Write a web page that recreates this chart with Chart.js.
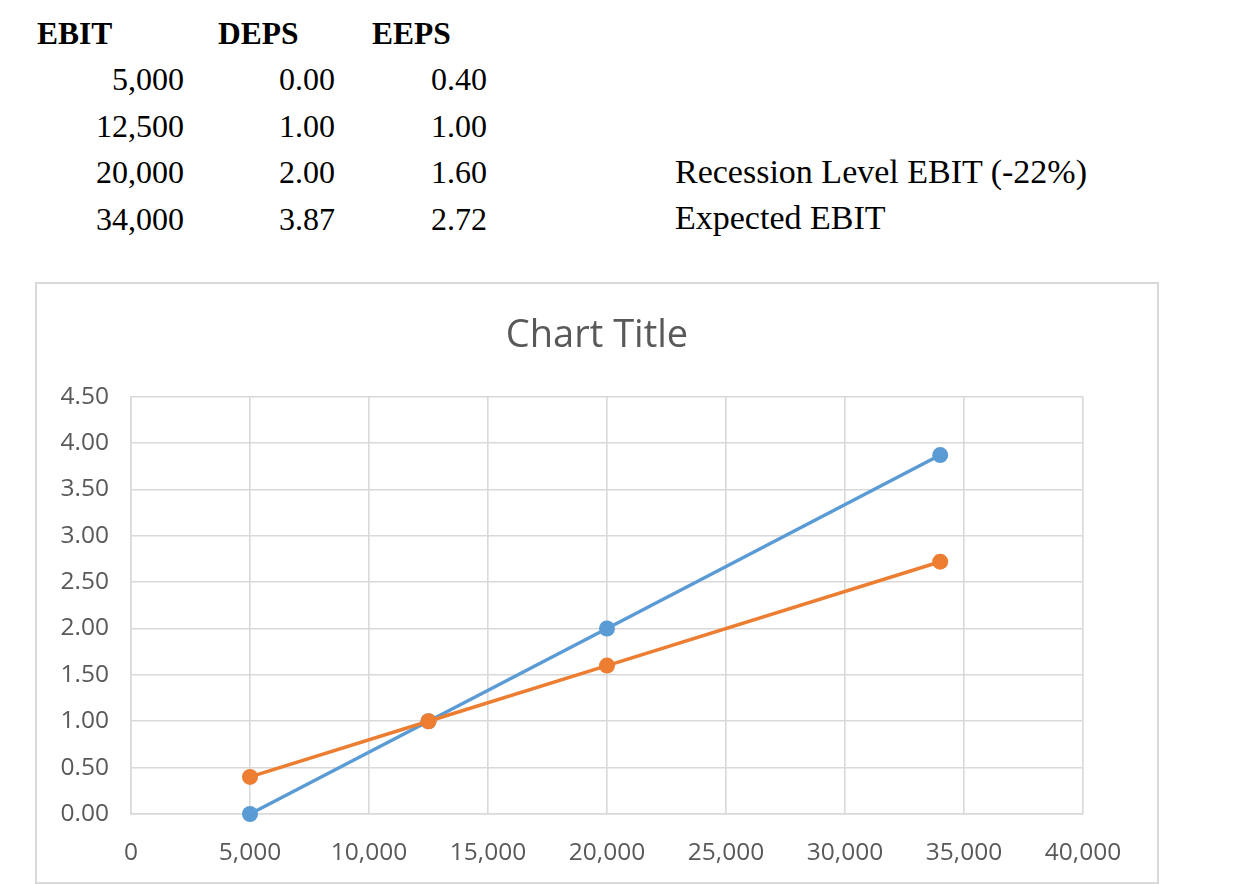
<!DOCTYPE html>
<html>
<head>
<meta charset="utf-8">
<script src="https://cdn.jsdelivr.net/npm/chart.js@4.4.1/dist/chart.umd.min.js"></script>
<style>
  html, body { margin: 0; padding: 0; background: #fff; }
  body { width: 1238px; height: 884px; position: relative; overflow: hidden; font-family: "Liberation Serif", "Times New Roman", serif; color: #000; }
  .t { position: absolute; white-space: nowrap; }
  .h { font-weight: bold; }
  .r { text-align: right; }
  #frame { position: absolute; left: 35px; top: 282px; width: 1120px; height: 598px; border: 2px solid #d9d9d9; }
  #frame canvas { display: block; }
</style>
</head>
<body>
<div id="table"></div>
<div id="frame"><canvas id="c" width="1120" height="598"></canvas></div>
<script>
// ---- data ----
const headers = ["EBIT", "DEPS", "EEPS"];
const ebit = [5000, 12500, 20000, 34000];
const deps = [0.00, 1.00, 2.00, 3.87];
const eeps = [0.40, 1.00, 1.60, 2.72];
const notes = ["", "", "Recession Level EBIT (-22%)", "Expected EBIT"];
const xTicks = [0, 5000, 10000, 15000, 20000, 25000, 30000, 35000, 40000];
const yTicks = [0, 0.5, 1, 1.5, 2, 2.5, 3, 3.5, 4, 4.5];
const chartTitle = "Chart Title";

// ---- table text ----
const tbl = document.getElementById('table');
function addText(txt, cls, fs, baseline, pos) {
  const d = document.createElement('div');
  d.className = 't ' + cls;
  d.textContent = txt;
  d.style.fontSize = fs + 'px';
  d.style.lineHeight = fs + 'px';
  d.style.top = (baseline - 0.8375 * fs) + 'px';
  Object.assign(d.style, pos);
  tbl.appendChild(d);
}
const headerLeft = [37, 218, 372];
headers.forEach((h, i) => addText(h, 'h', 31.5, 44, { left: headerLeft[i] + 'px' }));
const rowBase = [90, 136.5, 183, 229.5];
const colRight = [184, 335, 487];
const right = (r) => ({ left: (r - 200) + 'px', width: '200px' });
ebit.forEach((v, i) => {
  addText(v.toLocaleString('en-US'), 'r', 32, rowBase[i], right(colRight[0]));
  addText(deps[i].toFixed(2), 'r', 32, rowBase[i], right(colRight[1]));
  addText(eeps[i].toFixed(2), 'r', 32, rowBase[i], right(colRight[2]));
  if (notes[i]) addText(notes[i], '', 34, rowBase[i], { left: '675px' });
});

// ---- chart ----
const gridColor = '#d9d9d9';
const tickColor = '#595959';
const tickFont = { family: 'Open Sans', size: 24.5 };
new Chart(document.getElementById('c'), {
  type: 'line',
  data: {
    datasets: [
      {
        label: 'DEPS',
        data: ebit.map((x, i) => ({ x: x, y: deps[i] })),
        borderColor: '#5b9bd5', backgroundColor: '#5b9bd5',
        borderWidth: 3.5, pointRadius: 8, pointHoverRadius: 8,
        pointBorderWidth: 0, order: 1, clip: false, tension: 0
      },
      {
        label: 'EEPS',
        data: ebit.map((x, i) => ({ x: x, y: eeps[i] })),
        borderColor: '#ed7d31', backgroundColor: '#ed7d31',
        borderWidth: 3.5, pointRadius: 8, pointHoverRadius: 8,
        pointBorderWidth: 0, order: 0, clip: false, tension: 0
      }
    ]
  },
  options: {
    responsive: false,
    animation: false,
    devicePixelRatio: 1,
    layout: { padding: 0 },
    plugins: {
      legend: { display: false },
      tooltip: { enabled: false },
      title: {
        display: true, text: chartTitle, color: tickColor,
        font: { family: 'Open Sans', size: 38, weight: 'normal' },
        padding: { top: 29, bottom: 38 }
      }
    },
    scales: {
      x: {
        type: 'linear', min: xTicks[0], max: xTicks[xTicks.length - 1],
        afterBuildTicks: (s) => { s.ticks = xTicks.map(v => ({ value: v })); },
        ticks: {
          color: tickColor, font: tickFont, padding: 24, maxRotation: 0, autoSkip: false,
          callback: (v) => Number(v).toLocaleString('en-US')
        },
        grid: { color: gridColor, lineWidth: 1.6, drawTicks: false },
        border: { color: gridColor, width: 1.6 },
        afterFit: (s) => { s.height = 68; }
      },
      y: {
        type: 'linear', min: yTicks[0], max: yTicks[yTicks.length - 1],
        afterBuildTicks: (s) => { s.ticks = yTicks.map(v => ({ value: v })); },
        ticks: {
          color: tickColor, font: tickFont, padding: 22, autoSkip: false,
          callback: (v) => Number(v).toFixed(2)
        },
        grid: { color: gridColor, lineWidth: 1.6, drawTicks: false },
        border: { color: gridColor, width: 1.6 },
        afterFit: (s) => { s.width = 94; }
      },
      spacer: {
        type: 'linear', position: 'right', display: true,
        grid: { display: false, drawTicks: false },
        border: { display: false },
        ticks: { display: false },
        afterFit: (s) => { s.width = 74; }
      }
    }
  }
});
</script>
</body>
</html>
